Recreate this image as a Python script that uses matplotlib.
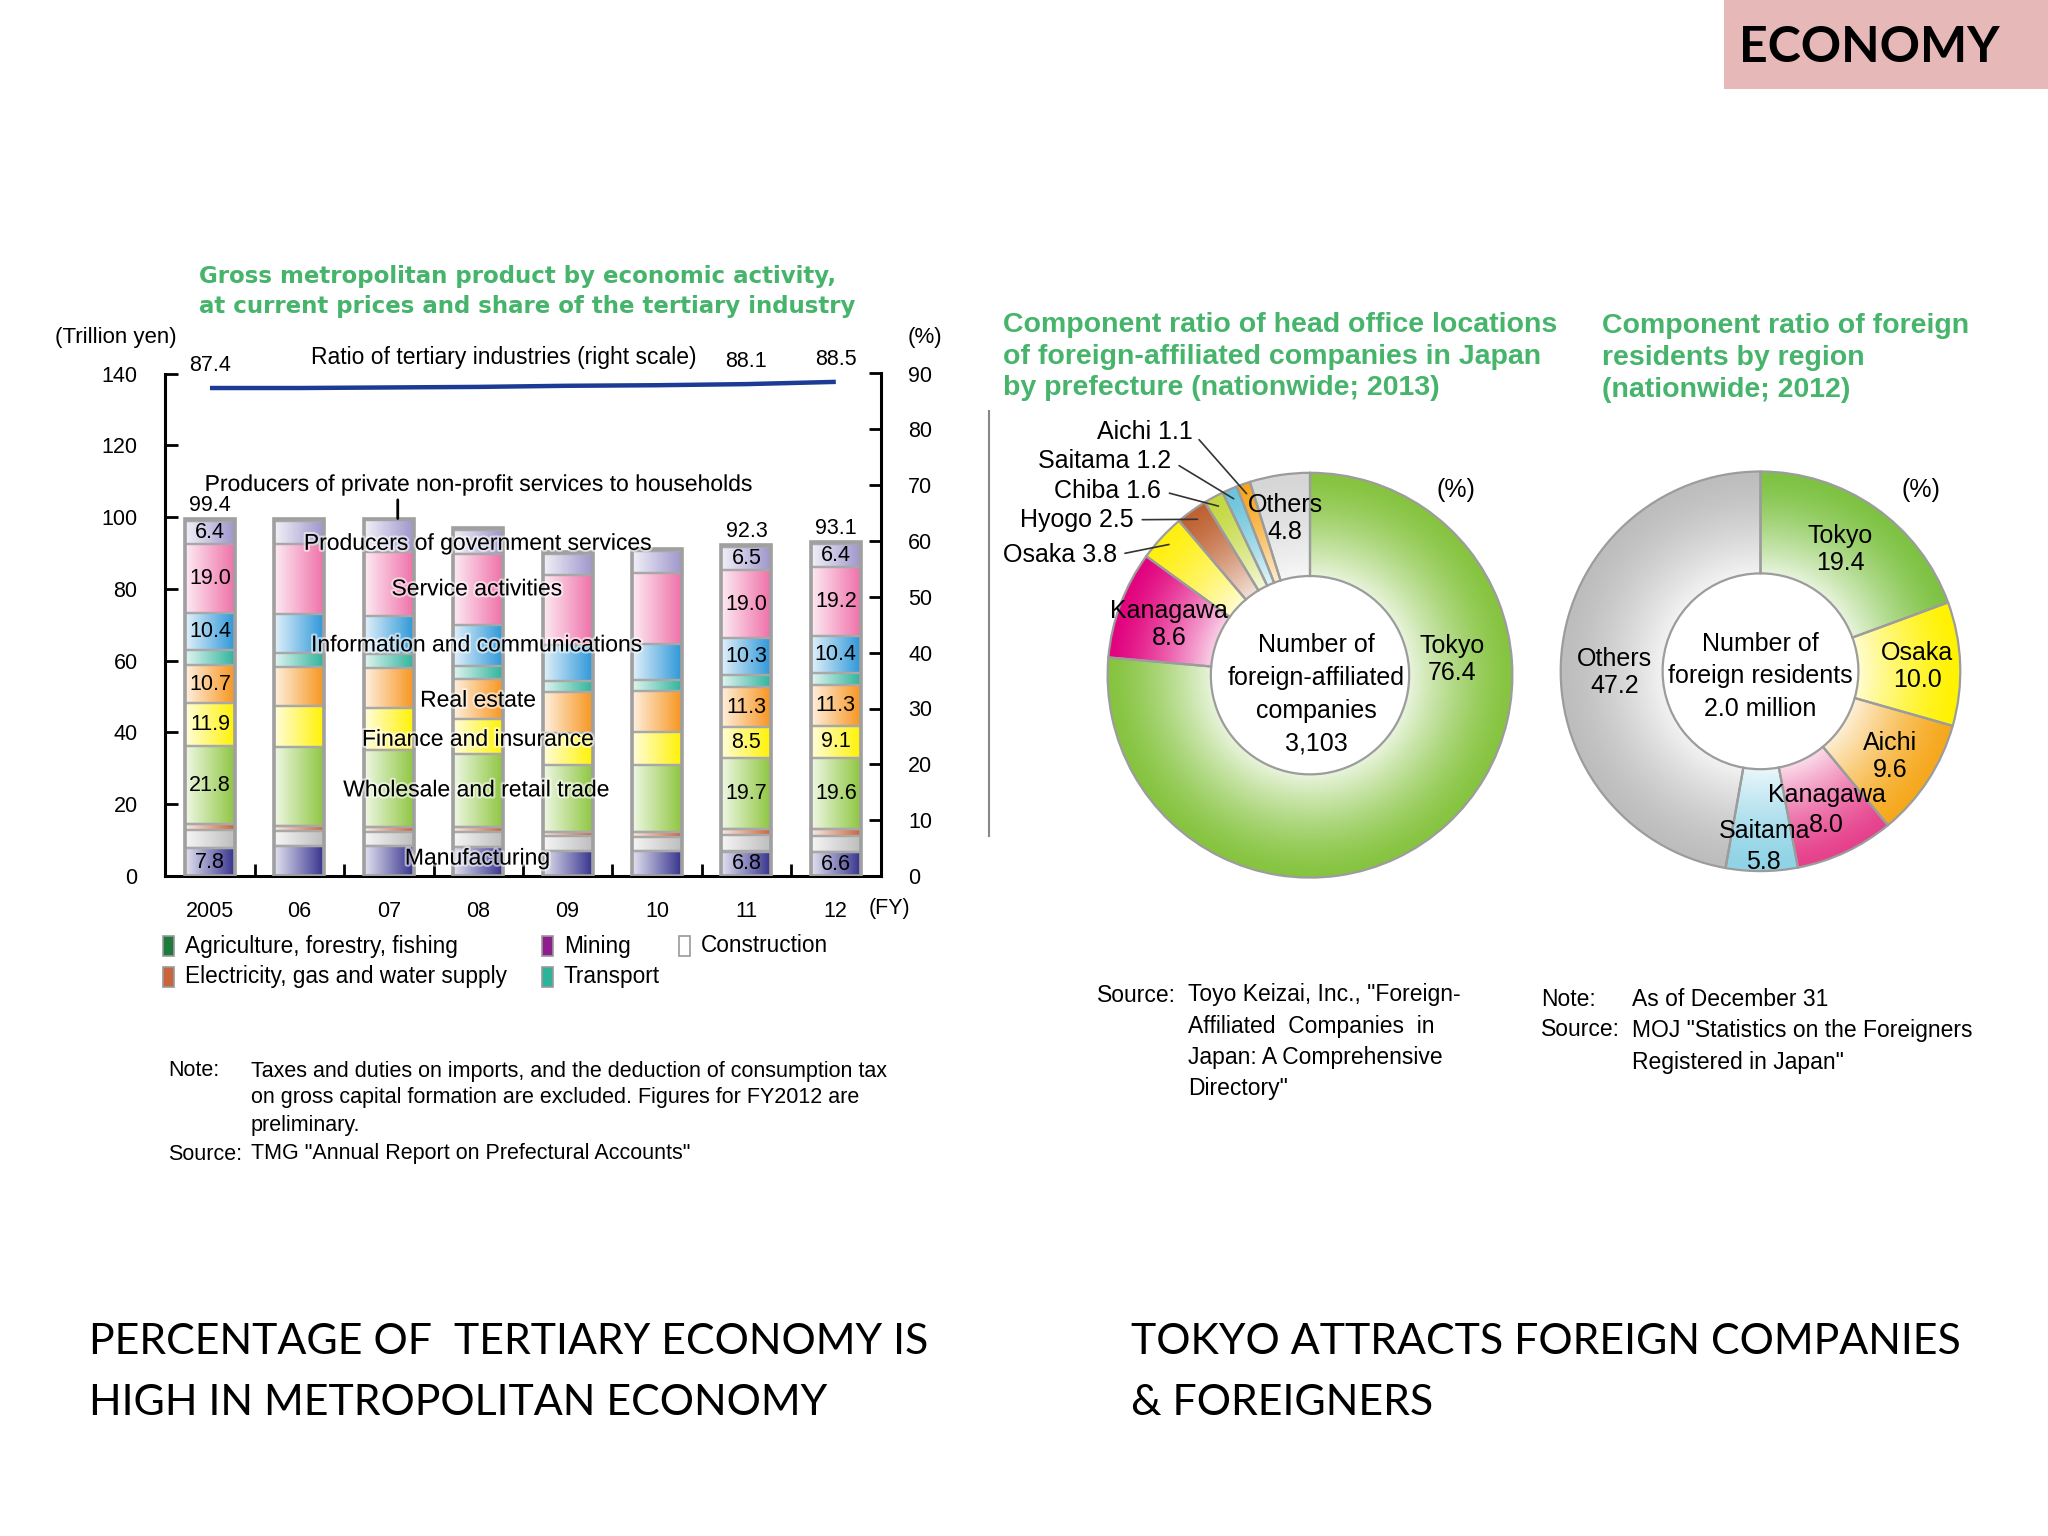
import numpy as np
import matplotlib
matplotlib.use('Agg')
import matplotlib.pyplot as plt
import matplotlib.colors as mcolors
import matplotlib.patheffects as pe
from matplotlib.patches import Rectangle, Wedge
from matplotlib.lines import Line2D

plt.rcParams['font.family'] = ['Liberation Sans', 'DejaVu Sans']

W, H = 2048, 1536

# ---- Gross metropolitan product (trillion yen) ----
years = ['2005', '06', '07', '08', '09', '10', '11', '12']
manufacturing = [7.8, 8.4, 8.3, 8.0, 6.9, 6.9, 6.8, 6.6]
mining = [0.05, 0.05, 0.05, 0.05, 0.05, 0.05, 0.05, 0.05]
construction = [4.9, 4.2, 4.0, 4.3, 4.1, 4.0, 4.5, 4.6]
electricity = [1.6, 1.3, 1.2, 1.3, 1.2, 1.2, 1.8, 1.9]
agriculture = [0.05, 0.05, 0.05, 0.05, 0.05, 0.05, 0.05, 0.05]
wholesale = [21.8, 22.0, 21.5, 20.3, 18.6, 18.8, 19.7, 19.6]
finance = [11.9, 11.5, 11.8, 9.8, 9.0, 9.1, 8.5, 9.1]
real_estate = [10.7, 10.8, 11.0, 11.1, 11.3, 11.5, 11.3, 11.3]
transport = [4.2, 3.9, 4.0, 3.6, 3.0, 3.0, 3.2, 3.3]
information = [10.4, 10.7, 10.4, 11.4, 10.2, 10.1, 10.3, 10.4]
services = [19.0, 19.6, 18.0, 19.9, 19.5, 19.8, 19.0, 19.2]
government = [6.4, 6.4, 9.0, 6.5, 5.8, 6.0, 6.5, 6.4]
nonprofit = [0.6, 0.6, 0.3, 0.7, 0.6, 0.6, 0.6, 0.6]
ratio_tertiary = [87.4, 87.4, 87.5, 87.6, 87.8, 87.9, 88.1, 88.5]
labelled_years = [0, 6, 7]

# ---- head office locations of foreign-affiliated companies (%) ----
co_names = ['Tokyo', 'Kanagawa', 'Osaka', 'Hyogo', 'Chiba', 'Saitama', 'Aichi', 'Others']
co_share = [76.4, 8.6, 3.8, 2.5, 1.6, 1.2, 1.1, 4.8]
co_colors = ['#86C440', '#E2037E', '#FFEF10', '#BF6233', '#C3D83E', '#6CC4DC', '#F8A51C', '#D6D6D6']
co_total = '3,103'

# ---- foreign residents by region (%) ----
res_names = ['Tokyo', 'Osaka', 'Aichi', 'Kanagawa', 'Saitama', 'Others']
res_share = [19.4, 10.0, 9.6, 8.0, 5.8, 47.2]
res_colors = ['#7DC242', '#FFF200', '#F6A81C', '#E6418C', '#8FD3E6', '#BDBDBD']
res_total = '2.0 million'

GREEN = '#47B46C'


def px_rect(x0, y0, x1, y1):
    return [x0 / W, 1 - y1 / H, (x1 - x0) / W, (y1 - y0) / H]


def ftext(x, y, s, **kw):
    fig.text(x / W, 1 - y / H, s, **kw)


fig = plt.figure(figsize=(W / 100, H / 100), dpi=100)

# header box
fig.add_artist(Rectangle((1724 / W, 1 - 89 / H), 324 / W, 89 / H, transform=fig.transFigure,
                         facecolor='#E6B9B8', edgecolor='none'))
ftext(1869, 47, 'ECONOMY', family='Lato', weight='bold', fontsize=36, ha='center', va='center')

# ================= stacked bar chart =================
ax = fig.add_axes(px_rect(165.3, 373.5, 880.5, 876))
x = np.arange(len(years))
layers = [
    ('Manufacturing', manufacturing, '#33308C'),
    ('Mining', mining, '#8E1E8E'),
    ('Construction', construction, '#BDBDBD'),
    ('Electricity', electricity, '#C9643B'),
    ('Agriculture', agriculture, '#1E7B3C'),
    ('Wholesale', wholesale, '#8DC63F'),
    ('Finance', finance, '#FFF200'),
    ('Real estate', real_estate, '#F7941D'),
    ('Transport', transport, '#2DB39A'),
    ('Information', information, '#2B96D8'),
    ('Services', services, '#EF6FA8'),
    ('Government', government, '#9D95CB'),
    ('Non-profit', nonprofit, '#8FD3EE'),
]
shown_values = {'Manufacturing', 'Wholesale', 'Finance', 'Real estate', 'Information', 'Services', 'Government'}
bar_w = 0.56
bottom = np.zeros(len(years))
layer_color = {}
for name, vals, col in layers:
    vals = np.array(vals)
    bars = ax.bar(x, vals, bar_w, bottom=bottom, color=col, linewidth=0, zorder=2)
    layer_color[name] = col
    c = np.array(mcolors.to_rgb(col))
    t = np.linspace(0, 1, 48)[None, :, None]
    grad = (1 - t) * (0.14 * c + 0.86) + t * c
    for b in bars:
        x0, y0 = b.get_x(), b.get_y()
        ax.imshow(grad, extent=(x0, x0 + b.get_width(), y0, y0 + b.get_height()),
                  aspect='auto', interpolation='bilinear', zorder=2.5)
    ax.bar(x, vals, bar_w, bottom=bottom, fill=False, edgecolor='#A8A8A8', linewidth=1.6, zorder=3)
    if name in shown_values:
        for i in labelled_years:
            ax.text(x[i], bottom[i] + vals[i] / 2, f'{vals[i]:.1f}', ha='center', va='center',
                    fontsize=15.5, zorder=6)
    bottom += vals
totals = bottom
ax.bar(x, totals, bar_w, fill=False, edgecolor='#A0A0A0', linewidth=2.6, zorder=4)
for i in labelled_years:
    ax.text(x[i], totals[i] + 0.8, f'{totals[i]:.1f}', ha='center', va='bottom', fontsize=15.5)

halo = [pe.withStroke(linewidth=3, foreground='white', alpha=0.55)]
bar_notes = [
    ('Producers of private non-profit services to households', -0.06, 109.1),
    ('Producers of government services', 1.05, 92.7),
    ('Service activities', 2.03, 80.0),
    ('Information and communications', 1.13, 64.4),
    ('Real estate', 2.35, 49.0),
    ('Finance and insurance', 1.70, 38.1),
    ('Wholesale and retail trade', 1.49, 24.0),
    ('Manufacturing', 2.18, 5.0),
]
for s, tx, ty in bar_notes:
    ax.text(tx, ty, s, ha='left', va='center', fontsize=16.5, zorder=7, path_effects=halo)
ax.annotate('', xy=(2.1, totals[2]), xytext=(2.1, 104.8),
            arrowprops=dict(arrowstyle='-', lw=2, color='black', shrinkA=0, shrinkB=0), zorder=7)

ax.set_xlim(-0.5, 7.5)
ax.set_ylim(0, 140)
ax.set_yticks(np.arange(0, 141, 20))
ax.set_xticks(x, years)
ax.set_xticks(np.arange(0.5, 7, 1), minor=True)
ax.tick_params(axis='x', which='major', length=0, pad=18, labelsize=15.5)
ax.tick_params(axis='x', which='minor', direction='in', length=9, width=2)
ax.tick_params(axis='y', direction='in', length=9, width=2, pad=20, labelsize=15.5)
for sp in ['top', 'right']:
    ax.spines[sp].set_visible(False)
for sp in ['left', 'bottom']:
    ax.spines[sp].set_linewidth(2.2)
ax.text(7.37, -0.0637, '(FY)', transform=ax.get_xaxis_transform(), ha='left', va='center', fontsize=15.5)

ax2 = ax.twinx()
ax2.set_ylim(0, 90)
ax2.set_yticks(np.arange(0, 91, 10))
ax2.tick_params(axis='y', direction='in', length=9, width=2, pad=20, labelsize=15.5)
for sp in ['top', 'left', 'bottom']:
    ax2.spines[sp].set_visible(False)
ax2.spines['right'].set_linewidth(2.2)
ax2.plot(x, ratio_tertiary, color='#1B3B94', lw=3.2, solid_capstyle='butt', zorder=5)
for i in labelled_years:
    ax2.text(x[i], ratio_tertiary[i] + 2.2, f'{ratio_tertiary[i]:.1f}', ha='center', va='bottom', fontsize=15.5)
ax2.text(1.13, 92.8, 'Ratio of tertiary industries (right scale)', ha='left', va='center', fontsize=16.5)

ftext(55, 337, '(Trillion yen)', fontsize=16, ha='left', va='center')
ftext(908, 337, '(%)', fontsize=16, ha='left', va='center')
ftext(199, 277, 'Gross metropolitan product by economic activity,', family='DejaVu Sans',
      weight='bold', fontsize=16.5, color=GREEN, ha='left', va='center')
ftext(199, 307, 'at current prices and share of the tertiary industry', family='DejaVu Sans',
      weight='bold', fontsize=16.5, color=GREEN, ha='left', va='center')

# legend for the small sectors
legend_items = [('Agriculture, forestry, fishing', 'Agriculture', 163, 946),
                ('Mining', 'Mining', 542, 946),
                ('Construction', 'Construction', 679, 946),
                ('Electricity, gas and water supply', 'Electricity', 163, 977),
                ('Transport', 'Transport', 542, 977)]
for label, key, lx, ly in legend_items:
    face = 'white' if key == 'Construction' else layer_color[key]
    fig.add_artist(Rectangle((lx / W, 1 - (ly + 10) / H), 11 / W, 20 / H, transform=fig.transFigure,
                             facecolor=face, edgecolor='#999999', linewidth=1.2))
    ftext(lx + 22, ly, label, fontsize=16.3, ha='left', va='center')

ftext(168, 1071, 'Note:', fontsize=15.5, va='center')
ftext(251, 1071, 'Taxes and duties on imports, and the deduction of consumption tax', fontsize=15.5, va='center')
ftext(251, 1098, 'on gross capital formation are excluded. Figures for FY2012 are', fontsize=15.5, va='center')
ftext(251, 1126, 'preliminary.', fontsize=15.5, va='center')
ftext(168, 1154, 'Source:', fontsize=15.5, va='center')
ftext(251, 1154, 'TMG "Annual Report on Prefectural Accounts"', fontsize=15.5, va='center')


# ================= donut charts =================
def donut(cx, cy, R, shares, colors):
    dax = fig.add_axes(px_rect(cx - 1.05 * R, cy - 1.05 * R, cx + 1.05 * R, cy + 1.05 * R))
    wedges, _ = dax.pie(shares, colors=colors, startangle=90, counterclock=False, radius=1,
                        wedgeprops=dict(width=0.51, linewidth=0))
    g = np.linspace(-1, 1, 500)
    gx, gy = np.meshgrid(g, g)
    s = np.clip((np.hypot(gx, gy) - 0.49) / 0.51, 0, 1)
    shade = np.ones((500, 500, 4))
    shade[..., 3] = 0.82 * (1 - s) ** 1.4
    ring = Wedge((0, 0), 1, 0, 360, width=0.51, facecolor='none', edgecolor='none')
    dax.add_patch(ring)
    im = dax.imshow(shade, extent=(-1, 1, -1, 1), origin='lower', zorder=3, interpolation='bilinear')
    im.set_clip_path(ring)
    dax.pie(shares, startangle=90, counterclock=False, radius=1,
            wedgeprops=dict(width=0.51, fill=False, edgecolor='#9C9C9C', linewidth=1.6, zorder=4))
    dax.set_xlim(-1.05, 1.05)
    dax.set_ylim(-1.05, 1.05)
    dax.set_aspect('equal')
    dax.axis('off')
    return dax, wedges


# head office locations
d1, w1 = donut(1310, 675.2, 202.4, co_share, co_colors)
inner_labels1 = {'Tokyo': (0.703, 0.077), 'Kanagawa': (-0.697, 0.252), 'Others': (-0.123, 0.774)}
outer_labels1 = {'Osaka': (-0.955, 0.594), 'Hyogo': (-0.87, 0.768), 'Chiba': (-0.735, 0.91),
                 'Saitama': (-0.684, 1.058), 'Aichi': (-0.58, 1.20)}
for name, val, wd in zip(co_names, co_share, w1):
    if name in inner_labels1:
        d1.text(*inner_labels1[name], f'{name}\n{val}', ha='center', va='center', fontsize=18,
                linespacing=1.15, zorder=6)
    else:
        ang = np.deg2rad((wd.theta1 + wd.theta2) / 2)
        d1.annotate(f'{name} {val}', xy=(0.95 * np.cos(ang), 0.95 * np.sin(ang)), xytext=outer_labels1[name],
                    ha='right', va='center', fontsize=18, zorder=6, annotation_clip=False,
                    arrowprops=dict(arrowstyle='-', color='#333333', lw=1.2, relpos=(1, 0.5),
                                    shrinkA=4, shrinkB=0))
d1.text(0.723, 0.916, '(%)', ha='center', va='center', fontsize=18)
d1.text(0.03, -0.094, f'Number of\nforeign-affiliated\ncompanies\n{co_total}', ha='center', va='center',
        fontsize=18, linespacing=1.45, zorder=6)

# foreign residents
d2, w2 = donut(1760.5, 671.3, 199.8, res_share, res_colors)
inner_labels2 = {'Tokyo': (0.399, 0.608), 'Osaka': (0.784, 0.026), 'Aichi': (0.647, -0.425),
                 'Others': (-0.732, -0.007)}
for name, val in zip(res_names, res_share):
    if name in inner_labels2:
        d2.text(*inner_labels2[name], f'{name}\n{val}', ha='center', va='center', fontsize=18,
                linespacing=1.15, zorder=6)
d2.text(0.333, -0.621, res_names[3], ha='center', va='center', fontsize=18, zorder=6)
d2.text(0.327, -0.771, f'{res_share[3]}', ha='center', va='center', fontsize=18, zorder=6)
d2.text(0.02, -0.797, res_names[4], ha='center', va='center', fontsize=18, zorder=6)
d2.text(0.013, -0.954, f'{res_share[4]}', ha='center', va='center', fontsize=18, zorder=6)
d2.text(0.804, 0.908, '(%)', ha='center', va='center', fontsize=18)
d2.text(0.0, -0.026, f'Number of\nforeign residents\n{res_total}', ha='center', va='center',
        fontsize=18, linespacing=1.45, zorder=6)

# donut titles
for i, line in enumerate(['Component ratio of head office locations',
                          'of foreign-affiliated companies in Japan',
                          'by prefecture (nationwide; 2013)']):
    ftext(1003, 325 + 31.5 * i, line, weight='bold', fontsize=20.5, color=GREEN, va='center')
for i, line in enumerate(['Component ratio of foreign', 'residents by region', '(nationwide; 2012)']):
    ftext(1602, 326 + 32 * i, line, weight='bold', fontsize=20.5, color=GREEN, va='center')

fig.add_artist(Line2D([989 / W, 989 / W], [1 - 411 / H, 1 - 836 / H], color='#888888', lw=1.5))

# sources under donuts
ftext(1097, 995, 'Source:', fontsize=16.5, va='center')
for i, line in enumerate(['Toyo Keizai, Inc., "Foreign-', 'Affiliated  Companies  in',
                          'Japan: A Comprehensive', 'Directory"']):
    ftext(1188, 995 + 31.3 * i, line, fontsize=16.5, va='center')
ftext(1541, 999, 'Note:', fontsize=16.5, va='center')
ftext(1632, 999, 'As of December 31', fontsize=16.5, va='center')
ftext(1541, 1030, 'Source:', fontsize=16.5, va='center')
ftext(1632, 1030, 'MOJ "Statistics on the Foreigners', fontsize=16.5, va='center')
ftext(1632, 1062, 'Registered in Japan"', fontsize=16.5, va='center')

# slide captions
ftext(89, 1342, 'PERCENTAGE OF  TERTIARY ECONOMY IS', family='Lato', fontsize=30.9, va='center')
ftext(89, 1403, 'HIGH IN METROPOLITAN ECONOMY', family='Lato', fontsize=30.9, va='center')
ftext(1131, 1342, 'TOKYO ATTRACTS FOREIGN COMPANIES', family='Lato', fontsize=30.9, va='center')
ftext(1131, 1403, '& FOREIGNERS', family='Lato', fontsize=30.9, va='center')

fig.savefig('out.png', dpi=100)
